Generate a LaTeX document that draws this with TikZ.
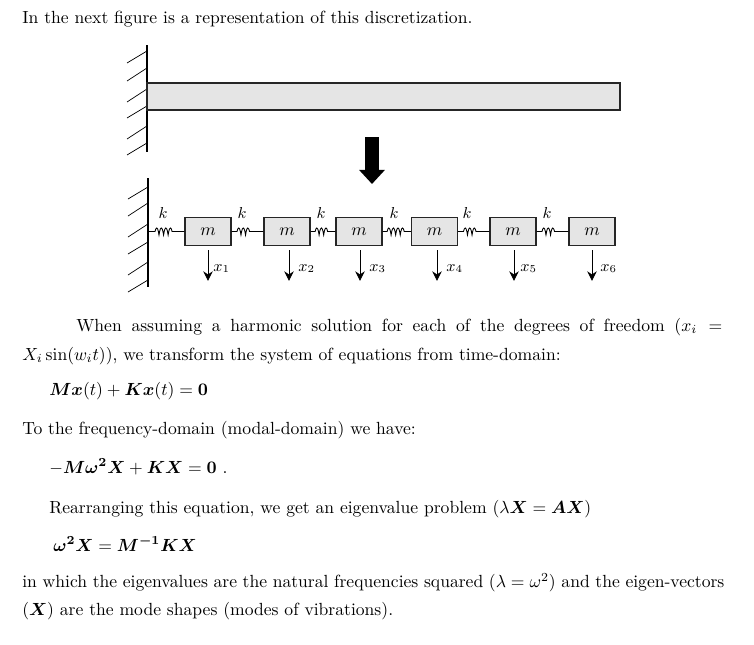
\documentclass[tikz,border=0pt]{standalone}
\usepackage{amsmath}
\usepackage{tikz}
\usetikzlibrary{arrows.meta,decorations.pathmorphing}

\tikzset{
	textline/.style={anchor=base west,inner sep=0pt},
	mass/.style={draw=black!85,fill=black!10,thick,minimum width=26.2pt,minimum height=16.2pt,inner sep=0pt},
	beam/.style={draw=black!85,fill=black!10,thick},
	wall/.style={thick},
	hatch/.style={thin},
	springline/.style={line width=0.5pt,decorate,decoration={coil,aspect=0.15,segment length=2.6pt,amplitude=2pt,pre length=3pt,post length=5.5pt}},
	disp/.style={line width=0.5pt,-{Stealth[length=5.5pt,width=5.4pt]}},
	bigarrow/.style={line width=7.4pt,-{Triangle[length=8pt,width=14.2pt]}},
	klabel/.style={anchor=base,inner sep=0pt,font=\small},
	xlabel/.style={anchor=base west,inner sep=0pt,font=\small}
}

\begin{document}
\begin{tikzpicture}[x=0.5685pt,y=-0.5685pt]
	\useasboundingbox (0,0) rectangle (754,645);

	\node [textline](L1) at (22,23) {In the next figure is a representation of this discretization.};

	\draw [wall] (147,45) to (147,152);
	\draw [hatch] (147,51) to (127,63);
	\draw [hatch] (147,68) to (127,81);
	\draw [hatch] (147,89) to (127,102);
	\draw [hatch] (147,106) to (127,118);
	\draw [hatch] (147,126) to (127,139);
	\draw [hatch] (147,143) to (127,155);
	\draw [beam] (147,83) rectangle (620,110);

	\coordinate (T) at (372,137);
	\coordinate (H) at (372,184);
	\draw [bigarrow] (T) to (H);

	\draw [wall] (148,178) to (148,287);
	\draw [hatch] (148,187) to (128,199);
	\draw [hatch] (148,203) to (128,216);
	\draw [hatch] (148,224) to (128,237);
	\draw [hatch] (148,242) to (128,254);
	\draw [hatch] (148,262) to (128,275);
	\draw [hatch] (148,280) to (128,292);

	\coordinate (W) at (148,231.5);
	\node [mass](M1) at (208,231.5) {$m$};
	\node [mass](M2) at (287,231.5) {$m$};
	\node [mass](M3) at (359,231.5) {$m$};
	\node [mass](M4) at (434.5,231.5) {$m$};
	\node [mass](M5) at (513,231.5) {$m$};
	\node [mass](M6) at (592,231.5) {$m$};

	\draw [springline,decoration={pre length=4pt,post length=6pt}] (W) to (M1);
	\draw [springline] (M1) to (M2);
	\draw [springline,decoration={pre length=2.5pt,post length=2.5pt}] (M2) to (M3);
	\draw [springline,decoration={pre length=2.5pt,post length=3.5pt}] (M3) to (M4);
	\draw [springline] (M4) to (M5);
	\draw [springline] (M5) to (M6);

	\node [klabel](K1) at (163,218) {$k$};
	\node [klabel](K2) at (242,218) {$k$};
	\node [klabel](K3) at (321,218) {$k$};
	\node [klabel](K4) at (394,218) {$k$};
	\node [klabel](K5) at (467,218) {$k$};
	\node [klabel](K6) at (547,218) {$k$};

	\coordinate (A1) at (208,250);
	\coordinate (B1) at (208,281);
	\coordinate (A2) at (289,250);
	\coordinate (B2) at (289,281);
	\coordinate (A3) at (360,250);
	\coordinate (B3) at (360,281);
	\coordinate (A4) at (437,250);
	\coordinate (B4) at (437,281);
	\coordinate (A5) at (514,250);
	\coordinate (B5) at (514,281);
	\coordinate (A6) at (592,250);
	\coordinate (B6) at (592,281);
	\draw [disp] (A1) to (B1);
	\draw [disp] (A2) to (B2);
	\draw [disp] (A3) to (B3);
	\draw [disp] (A4) to (B4);
	\draw [disp] (A5) to (B5);
	\draw [disp] (A6) to (B6);

	\node [xlabel](X1) at (213,271) {$x_1$};
	\node [xlabel](X2) at (298,271) {$x_2$};
	\node [xlabel](X3) at (369,271) {$x_3$};
	\node [xlabel](X4) at (446,271) {$x_4$};
	\node [xlabel](X5) at (520,271) {$x_5$};
	\node [xlabel](X6) at (600,271) {$x_6$};

	\node [textline](L2) at (76,331) {\hbox to 367.2pt{When assuming a harmonic solution for each of the degrees of freedom ($x_i=$}};
	\node [textline](L3) at (22,360) {$X_i\sin(w_it)$), we transform the system of equations from time-domain:};
	\node [textline](L4) at (49,395) {$\boldsymbol{Mx}(t)+\boldsymbol{Kx}(t)=\boldsymbol{0}$};
	\node [textline](L5) at (22,434) {To the frequency-domain (modal-domain) we have:};
	\node [textline](L6) at (49,473) {$-\boldsymbol{M\omega^2X}+\boldsymbol{KX}=\boldsymbol{0}$ .};
	\node [textline](L7) at (49,513) {Rearranging this equation, we get an eigenvalue problem ($\lambda\boldsymbol{X}=\boldsymbol{AX}$)};
	\node [textline](L8) at (53,551) {$\boldsymbol{\omega^2X}=\boldsymbol{M^{-1}KX}$};
	\node [textline](L9) at (22,588) {\hbox to 399.1pt{in which the eigenvalues are the natural frequencies squared ($\lambda=\omega^2$) and the eigen-vectors}};
	\node [textline](L10) at (22,615) {($\boldsymbol{X}$) are the mode shapes (modes of vibrations).};
\end{tikzpicture}
\end{document}
